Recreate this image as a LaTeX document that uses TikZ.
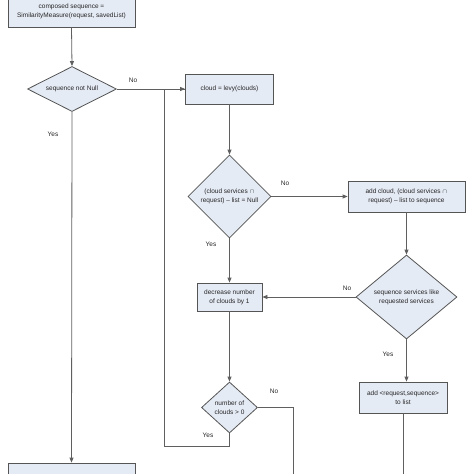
\documentclass[tikz,border=0pt]{standalone}
\usepackage{fontspec}
\setmainfont{Liberation Sans}
\usetikzlibrary{shapes.geometric,arrows.meta}
\definecolor{boxfill}{RGB}{229,235,245}
\definecolor{boxline}{RGB}{85,85,85}
\definecolor{conn}{RGB}{95,95,95}
\tikzset{
  every node/.style={font=\fontsize{6.5}{9}\selectfont, text=black!85},
  procbox/.style={draw=boxline, fill=boxfill, line width=0.8pt, rectangle, inner sep=0pt, align=center},
  decision/.style={draw=boxline, fill=boxfill, line width=0.8pt, diamond, inner sep=0pt, align=center},
  flow/.style={draw=conn, line width=0.8pt},
  arr/.style={flow, -{Triangle[length=5pt,width=4pt]}},
  lbl/.style={font=\fontsize{6.5}{8}\selectfont}
}
\begin{document}
\begin{tikzpicture}[x=1pt,y=-1pt]
\useasboundingbox (0,0) rectangle (474,474);
\clip (0,0) rectangle (474,474);
% nodes
\node[procbox, minimum width=127pt, minimum height=32pt] (top) at (71.5,11) {composed sequence =\\SimilarityMeasure(request, savedList)};
\node[decision, minimum width=89pt, minimum height=45pt, aspect=2] (d1) at (72,89) {sequence not Null};
\node[procbox, minimum width=88pt, minimum height=30pt] (cloud) at (229.5,89) {cloud = levy(clouds)};
\node[decision, minimum width=83pt, minimum height=83pt, aspect=1] (d2) at (229.5,196.5) {(cloud services $\cap$\\request) -- list = Null};
\node[procbox, minimum width=117pt, minimum height=31pt] (add) at (406.5,196.5) {add cloud, (cloud services $\cap$\\request) -- list to sequence};
\node[decision, minimum width=101pt, minimum height=84pt, aspect=1.2] (d3) at (406.5,297) {sequence services like\\requested services};
\node[procbox, minimum width=65pt, minimum height=28pt] (dec) at (229.5,297) {decrease number\\of clouds by 1};
\node[decision, minimum width=56pt, minimum height=51pt, aspect=1.1] (d4) at (229.5,407.5) {number of\\clouds > 0};
\node[procbox, minimum width=88pt, minimum height=31pt] (req) at (403,397.5) {add <request,sequence>\\to list};
\node[procbox, minimum width=127pt, minimum height=20pt] (bot) at (71.5,473) {};
% free ends
\coordinate (loopB) at (164,446);
\coordinate (out1) at (293,480);
\coordinate (out2) at (403,480);
% connectors
\draw[arr] (top.south) -- (d1.north);
\draw[arr] (d1.east) -- (cloud.west);
\draw[arr] (d1.south) -- (bot.north);
\draw[arr] (cloud.south) -- (d2.north);
\draw[arr] (d2.east) -- (add.west);
\draw[arr] (d2.south) -- (dec.north);
\draw[arr] (add.south) -- (d3.north);
\draw[arr] (d3.west) -- (dec.east);
\draw[arr] (d3.south) -- (d3.south |- req.north);
\draw[arr] (dec.south) -- (d4.north);
\draw[flow] (d4.south) |- (loopB) |- (cloud.west);
\draw[flow] (d4.east) -| (out1);
\draw[flow] (req.south) -- (out2);
% labels
\node[lbl] (n1) at (133,80) {No};
\node[lbl] (y1) at (53,134) {Yes};
\node[lbl] (n2) at (285,183) {No};
\node[lbl] (y2) at (211,244) {Yes};
\node[lbl] (n3) at (347,288) {No};
\node[lbl] (y3) at (388,354) {Yes};
\node[lbl] (n4) at (274,391) {No};
\node[lbl] (y4) at (208,435) {Yes};
\end{tikzpicture}
\end{document}
